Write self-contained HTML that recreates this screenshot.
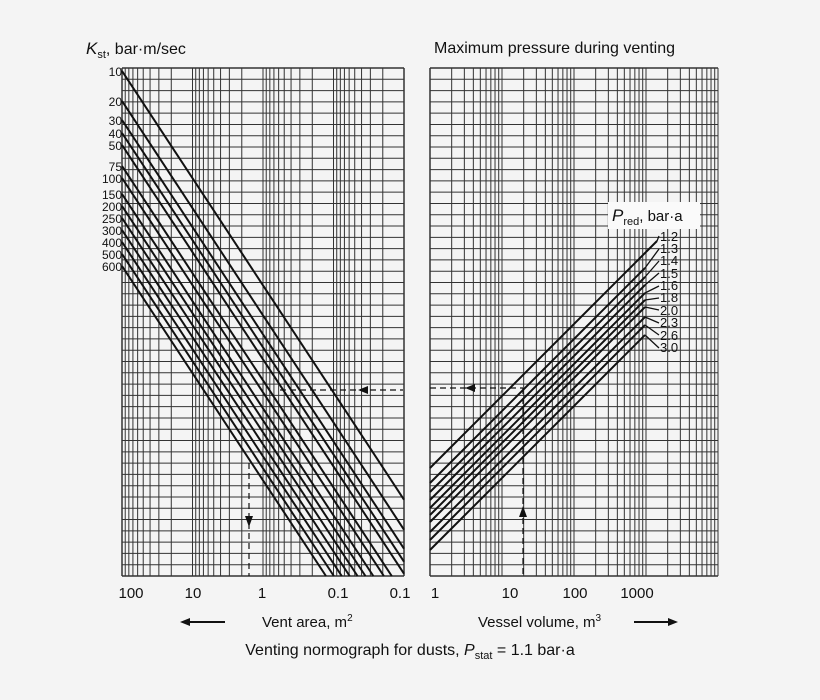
<!DOCTYPE html>
<html><head><meta charset="utf-8"><style>
html,body{margin:0;padding:0;background:#f4f4f4;}
svg{display:block;font-family:"Liberation Sans",sans-serif;}
</style></head><body>
<svg id="s" width="820" height="700" viewBox="0 0 820 700" xmlns="http://www.w3.org/2000/svg">
<rect width="820" height="700" fill="#f4f4f4"/>
<g id="grid" stroke="#333" stroke-width="1" fill="none"></g>
<g id="series" stroke="#111" stroke-width="2" fill="none"></g>
<rect x="608" y="202" width="92" height="27" fill="#fafafa"/>
<g fill="#111" font-size="13">
<text x="86" y="54" font-size="16"><tspan font-style="italic" font-size="17">K</tspan><tspan font-size="11" dy="4">st</tspan><tspan dy="-4">, bar·m/sec</tspan></text>
<text x="434" y="53" font-size="16">Maximum pressure during venting</text>
<text x="612" y="221" font-size="15"><tspan font-style="italic" font-size="17">P</tspan><tspan font-size="11" dy="4">red</tspan><tspan dy="-4">, bar·a</tspan></text>
<g text-anchor="end" font-size="12">
<text x="122" y="76">10</text><text x="122" y="106">20</text><text x="122" y="125">30</text>
<text x="122" y="138">40</text><text x="122" y="150">50</text><text x="122" y="171">75</text>
<text x="122" y="183">100</text><text x="122" y="199">150</text><text x="122" y="211">200</text>
<text x="122" y="223">250</text><text x="122" y="235">300</text><text x="122" y="247">400</text>
<text x="122" y="259">500</text><text x="122" y="271">600</text>
</g>
<g font-size="13" fill="#111">
<text x="660" y="241">1.2</text><text x="660" y="253">1.3</text><text x="660" y="265">1.4</text>
<text x="660" y="278">1.5</text><text x="660" y="290">1.6</text><text x="660" y="302">1.8</text>
<text x="660" y="315">2.0</text><text x="660" y="327">2.3</text><text x="660" y="340">2.6</text>
<text x="660" y="352">3.0</text>
</g>
<g font-size="15" text-anchor="middle">
<text x="131" y="598">100</text><text x="193" y="598">10</text><text x="262" y="598">1</text>
<text x="338" y="598">0.1</text><text x="400" y="598">0.1</text>
<text x="435" y="598">1</text><text x="510" y="598">10</text><text x="575" y="598">100</text><text x="637" y="598">1000</text>
</g>
<text x="262" y="627" font-size="15">Vent area, m<tspan font-size="10" dy="-6">2</tspan></text>
<text x="478" y="627" font-size="15">Vessel volume, m<tspan font-size="10" dy="-6">3</tspan></text>
<text x="410" y="655" font-size="16" text-anchor="middle">Venting normograph for dusts,  <tspan font-style="italic">P</tspan><tspan font-size="11" dy="4">stat</tspan><tspan dy="-4"> = 1.1 bar·a</tspan></text>
</g>
<g stroke="#111" stroke-width="2"><line x1="184" y1="622" x2="225" y2="622"/><line x1="634" y1="622" x2="674" y2="622"/></g>
<polygon points="180,622 190,618 190,626" fill="#111"/>
<polygon points="678,622 668,618 668,626" fill="#111"/>
<g stroke="#111" stroke-width="1.2" stroke-dasharray="6,4" fill="none">
<line x1="280" y1="390" x2="403" y2="390"/>
<line x1="249" y1="463" x2="249" y2="576"/>
<line x1="430" y1="388" x2="523" y2="388"/>
<line x1="523" y1="388" x2="523" y2="576"/>
</g>
<g fill="#111">
<polygon points="358,390 368,386 368,394"/>
<polygon points="465,388 475,384 475,392"/>
<polygon points="249,527 245,516 253,516"/>
<polygon points="523,506 519,517 527,517"/>
</g>
</svg>
<script>
var ns="http://www.w3.org/2000/svg";
var g=document.getElementById("grid"),se=document.getElementById("series");
function L(p,x1,y1,x2,y2,w){var l=document.createElementNS(ns,"line");l.setAttribute("x1",x1);l.setAttribute("y1",y1);l.setAttribute("x2",x2);l.setAttribute("y2",y2);if(w)l.setAttribute("stroke-width",w);p.appendChild(l);}
var T=68,B=576;
var lw=70.5;
for(var d=0;d<4;d++){for(var k=1;k<=10;k++){var x=122+d*lw+lw*(1-Math.log10(k));L(g,x,T,x,B);}}
var rw=72;
for(var d=0;d<4;d++){for(var k=1;k<=10;k++){var x=430+d*rw+rw*Math.log10(k);L(g,x,T,x,B);}}
for(var i=0;i<=45;i++){var y=T+i*(B-T)/45;L(g,122,y,404,y);L(g,430,y,718,y);}
L(g,122,T,404,T,1.5);L(g,122,B,404,B,1.5);L(g,122,T,122,B,1.5);L(g,404,T,404,B,1.5);
L(g,430,T,718,T,1.5);L(g,430,B,718,B,1.5);L(g,430,T,430,B,1.5);
var y0s=[71,101,120,133,145,166,178,194,206,218,230,242,254,266],s=1.52;
y0s.forEach(function(y0){var xe=404,ye=y0+s*(xe-122);if(ye>B){ye=B;xe=122+(B-y0)/s;}L(se,122,y0,xe,ye);});
var ys=[468,483,492,500,508,515,522,532,540,550],lab=[236,249,261,273,286,298,310,323,335,348];
ys.forEach(function(y0,i){var xe=(i==0)?657:645;var ye=y0-(xe-430);L(se,430,y0,xe,ye);L(se,xe,ye,659,lab[i],1.3);});
</script>
</body></html>
